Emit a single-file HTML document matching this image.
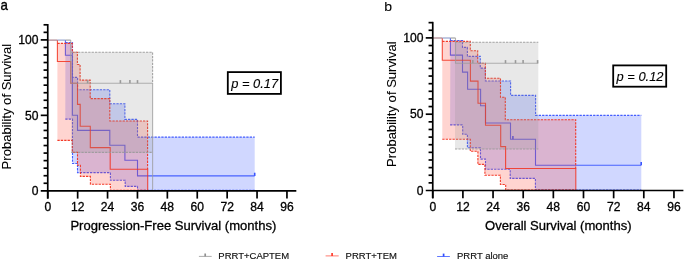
<!DOCTYPE html>
<html><head><meta charset="utf-8"><title>Kaplan-Meier curves</title>
<style>
html,body{margin:0;padding:0;background:#fff;}
body{width:685px;height:261px;overflow:hidden;}
svg{display:block;}
text{font-family:"Liberation Sans",Arial,Helvetica,sans-serif;fill:#000;stroke:#000;stroke-width:0.3px;}
.tk{font-size:12.1px;}
.ti{font-size:13.05px;}
.pv{font-size:12.9px;font-style:italic;stroke-width:0.12px;}
.lg{font-size:9.5px;fill:#111;stroke:#111;stroke-width:0.15px;}
.lt{font-size:14.5px;stroke-width:0.1px;}
</style></head>
<body>
<svg width="685" height="261" viewBox="0 0 685 261">
<polygon points="65.40,42.60 72.50,42.60 72.50,77.40 77.60,77.40 77.60,89.80 109.80,89.80 109.80,103.80 124.90,103.80 124.90,119.40 137.50,119.40 137.50,137.10 254.70,137.10 254.70,190.30 137.50,190.30 137.50,186.40 125.20,186.40 125.20,180.30 110.40,180.30 110.40,172.60 77.50,172.60 77.50,163.50 72.50,163.50 72.50,119.10 65.30,119.10" fill="#3a58ff" fill-opacity="0.24" stroke="none"/>
<polyline points="65.40,42.60 72.50,42.60 72.50,77.40 77.60,77.40 77.60,89.80 109.80,89.80 109.80,103.80 124.90,103.80 124.90,119.40 137.50,119.40 137.50,137.10 254.70,137.10" fill="none" stroke="#3a55ff" stroke-width="1.1" stroke-dasharray="2.3 1.1" stroke-opacity="0.95"/>
<polyline points="65.30,119.10 72.50,119.10 72.50,163.50 77.50,163.50 77.50,172.60 110.40,172.60 110.40,180.30 125.20,180.30 125.20,186.40 137.50,186.40 137.50,190.30 254.70,190.30" fill="none" stroke="#3a55ff" stroke-width="1.1" stroke-dasharray="2.3 1.1" stroke-opacity="0.95"/>
<polyline points="65.40,40.10 65.40,55.30 72.40,55.30 72.40,115.30 77.50,115.30 77.50,130.40 109.80,130.40 109.80,145.20 124.90,145.20 124.90,160.30 137.50,160.30 137.50,175.90 254.70,175.90" fill="none" stroke="#3a55ff" stroke-width="1.1" stroke-opacity="0.9"/>
<line x1="254.70" y1="172.70" x2="254.70" y2="175.90" stroke="#3a55ff" stroke-width="1.6"/>
<polygon points="57.40,43.40 72.30,43.40 72.30,52.20 77.40,52.20 77.40,64.50 80.10,64.50 80.10,80.10 90.20,80.10 90.20,98.60 109.80,98.60 109.80,121.00 147.60,121.00 147.60,190.30 110.40,190.30 110.40,184.20 90.40,184.20 90.40,176.40 80.40,176.40 80.40,165.20 77.50,165.20 77.50,152.40 72.30,152.40 72.30,140.40 57.40,140.40" fill="#ff3a28" fill-opacity="0.22" stroke="none"/>
<polyline points="57.40,43.40 72.30,43.40 72.30,52.20 77.40,52.20 77.40,64.50 80.10,64.50 80.10,80.10 90.20,80.10 90.20,98.60 109.80,98.60 109.80,121.00 147.60,121.00 147.60,169.30" fill="none" stroke="#f2311f" stroke-width="1.1" stroke-dasharray="2.3 1.1" stroke-opacity="0.95"/>
<polyline points="57.40,140.40 72.30,140.40 72.30,152.40 77.50,152.40 77.50,165.20 80.40,165.20 80.40,176.40 90.40,176.40 90.40,184.20 110.40,184.20 110.40,190.30 147.60,190.30" fill="none" stroke="#f2311f" stroke-width="1.1" stroke-dasharray="2.3 1.1" stroke-opacity="0.95"/>
<polyline points="57.40,40.10 57.40,61.50 70.70,61.50 70.70,83.30 77.50,83.30 77.50,104.40 80.20,104.40 80.20,126.30 90.30,126.30 90.30,147.60 110.20,147.60 110.20,169.30 147.70,169.30 147.70,190.80" fill="none" stroke="#f2311f" stroke-width="1.1" stroke-opacity="0.85"/>
<polygon points="71.20,52.30 152.60,52.30 152.60,152.40 71.20,152.40" fill="#8c8c8c" fill-opacity="0.205" stroke="none"/>
<polyline points="71.20,52.30 152.60,52.30 152.60,83.30" fill="none" stroke="#9a9a9a" stroke-width="1.1" stroke-dasharray="2.3 1.1" stroke-opacity="0.9"/>
<polyline points="71.20,152.40 152.60,152.40" fill="none" stroke="#9a9a9a" stroke-width="1.1" stroke-dasharray="2.3 1.1" stroke-opacity="0.9"/>
<polyline points="70.70,40.10 70.70,83.30 152.60,83.30 152.60,190.80" fill="none" stroke="#9a9a9a" stroke-width="1.1" stroke-opacity="0.75"/>
<line x1="87.60" y1="80.10" x2="87.60" y2="83.30" stroke="#9a9a9a" stroke-width="1.6"/>
<line x1="120.40" y1="80.10" x2="120.40" y2="83.30" stroke="#9a9a9a" stroke-width="1.6"/>
<line x1="129.90" y1="80.10" x2="129.90" y2="83.30" stroke="#9a9a9a" stroke-width="1.6"/>
<line x1="137.50" y1="80.10" x2="137.50" y2="83.30" stroke="#9a9a9a" stroke-width="1.6"/>
<line x1="47.80" y1="40.10" x2="57.40" y2="40.10" stroke="#a3757f" stroke-width="1.1"/>
<line x1="57.40" y1="40.10" x2="65.40" y2="40.10" stroke="#8c9bc9" stroke-width="1.1"/>
<line x1="65.40" y1="40.10" x2="70.70" y2="40.10" stroke="#9b9b9b" stroke-width="1.1"/>
<polygon points="450.40,40.50 462.50,40.50 462.50,47.40 467.40,47.40 467.40,56.40 480.30,56.40 480.30,68.10 485.40,68.10 485.40,81.00 510.60,81.00 510.60,95.40 535.60,95.40 535.60,115.40 641.30,115.40 641.30,190.00 535.40,190.00 535.40,178.40 510.20,178.40 510.20,169.30 485.50,169.30 485.50,159.10 480.50,159.10 480.50,147.70 467.40,147.70 467.40,134.30 462.70,134.30 462.70,124.90 450.10,124.90" fill="#3a58ff" fill-opacity="0.24" stroke="none"/>
<polyline points="450.40,40.50 462.50,40.50 462.50,47.40 467.40,47.40 467.40,56.40 480.30,56.40 480.30,68.10 485.40,68.10 485.40,81.00 510.60,81.00 510.60,95.40 535.60,95.40 535.60,115.40 641.30,115.40" fill="none" stroke="#3a55ff" stroke-width="1.1" stroke-dasharray="2.3 1.1" stroke-opacity="0.95"/>
<polyline points="450.10,124.90 462.70,124.90 462.70,134.30 467.40,134.30 467.40,147.70 480.50,147.70 480.50,159.10 485.50,159.10 485.50,169.30 510.20,169.30 510.20,178.40 535.40,178.40 535.40,190.00 641.30,190.00" fill="none" stroke="#3a55ff" stroke-width="1.1" stroke-dasharray="2.3 1.1" stroke-opacity="0.95"/>
<polyline points="450.40,38.00 450.40,55.10 462.50,55.10 462.50,72.10 467.60,72.10 467.60,89.20 480.60,89.20 480.60,105.80 485.50,105.80 485.50,123.00 510.50,123.00 510.50,139.30 535.50,139.30 535.50,165.20 641.20,165.20" fill="none" stroke="#3a55ff" stroke-width="1.1" stroke-opacity="0.9"/>
<line x1="512.90" y1="136.10" x2="512.90" y2="139.30" stroke="#3a55ff" stroke-width="1.6"/>
<line x1="641.20" y1="162.00" x2="641.20" y2="165.20" stroke="#3a55ff" stroke-width="1.6"/>
<polygon points="442.30,41.40 470.30,41.40 470.30,50.70 477.70,50.70 477.70,63.30 485.40,63.30 485.40,78.30 500.50,78.30 500.50,97.20 505.30,97.20 505.30,119.70 575.70,119.70 575.70,190.00 505.70,190.00 505.70,184.50 500.40,184.50 500.40,175.20 484.90,175.20 484.90,164.40 477.90,164.40 477.90,151.30 470.30,151.30 470.30,139.30 442.30,139.30" fill="#ff3a28" fill-opacity="0.22" stroke="none"/>
<polyline points="442.30,41.40 470.30,41.40 470.30,50.70 477.70,50.70 477.70,63.30 485.40,63.30 485.40,78.30 500.50,78.30 500.50,97.20 505.30,97.20 505.30,119.70 575.70,119.70 575.70,168.50" fill="none" stroke="#f2311f" stroke-width="1.1" stroke-dasharray="2.3 1.1" stroke-opacity="0.95"/>
<polyline points="442.30,139.30 470.30,139.30 470.30,151.30 477.90,151.30 477.90,164.40 484.90,164.40 484.90,175.20 500.40,175.20 500.40,184.50 505.70,184.50 505.70,190.00 575.70,190.00" fill="none" stroke="#f2311f" stroke-width="1.1" stroke-dasharray="2.3 1.1" stroke-opacity="0.95"/>
<polyline points="442.30,38.00 442.30,60.20 470.40,60.20 470.40,81.10 478.00,81.10 478.00,103.30 485.50,103.30 485.50,125.30 500.70,125.30 500.70,146.60 505.60,146.60 505.60,168.50 575.80,168.50 575.80,190.50" fill="none" stroke="#f2311f" stroke-width="1.1" stroke-opacity="0.85"/>
<polygon points="455.00,42.20 538.30,42.20 538.30,149.00 455.00,149.00" fill="#8c8c8c" fill-opacity="0.205" stroke="none"/>
<polyline points="455.00,42.20 538.30,42.20" fill="none" stroke="#9a9a9a" stroke-width="1.1" stroke-dasharray="2.3 1.1" stroke-opacity="0.9"/>
<polyline points="455.00,149.00 538.30,149.00" fill="none" stroke="#9a9a9a" stroke-width="1.1" stroke-dasharray="2.3 1.1" stroke-opacity="0.9"/>
<polyline points="455.50,38.00 455.50,63.30 538.20,63.30" fill="none" stroke="#9a9a9a" stroke-width="1.1" stroke-opacity="0.75"/>
<line x1="472.80" y1="60.10" x2="472.80" y2="63.30" stroke="#9a9a9a" stroke-width="1.6"/>
<line x1="505.50" y1="60.10" x2="505.50" y2="63.30" stroke="#9a9a9a" stroke-width="1.6"/>
<line x1="515.50" y1="60.10" x2="515.50" y2="63.30" stroke="#9a9a9a" stroke-width="1.6"/>
<line x1="523.10" y1="60.10" x2="523.10" y2="63.30" stroke="#9a9a9a" stroke-width="1.6"/>
<line x1="537.60" y1="60.10" x2="537.60" y2="63.30" stroke="#9a9a9a" stroke-width="1.6"/>
<line x1="432.70" y1="38.00" x2="442.30" y2="38.00" stroke="#a3757f" stroke-width="1.1"/>
<line x1="442.30" y1="38.00" x2="450.40" y2="38.00" stroke="#8c9bc9" stroke-width="1.1"/>
<line x1="450.40" y1="38.00" x2="455.50" y2="38.00" stroke="#9b9b9b" stroke-width="1.1"/>
<line x1="47.75" y1="24.01" x2="47.75" y2="198.60" stroke="#000" stroke-width="1.7"/>
<line x1="40.75" y1="190.80" x2="296.32" y2="190.80" stroke="#000" stroke-width="1.7"/>
<line x1="43.55" y1="183.26" x2="47.75" y2="183.26" stroke="#000" stroke-width="1.7"/>
<line x1="43.55" y1="175.71" x2="47.75" y2="175.71" stroke="#000" stroke-width="1.7"/>
<line x1="43.55" y1="168.17" x2="47.75" y2="168.17" stroke="#000" stroke-width="1.7"/>
<line x1="43.55" y1="160.62" x2="47.75" y2="160.62" stroke="#000" stroke-width="1.7"/>
<line x1="43.55" y1="153.08" x2="47.75" y2="153.08" stroke="#000" stroke-width="1.7"/>
<line x1="43.55" y1="145.53" x2="47.75" y2="145.53" stroke="#000" stroke-width="1.7"/>
<line x1="43.55" y1="137.99" x2="47.75" y2="137.99" stroke="#000" stroke-width="1.7"/>
<line x1="43.55" y1="130.44" x2="47.75" y2="130.44" stroke="#000" stroke-width="1.7"/>
<line x1="43.55" y1="122.90" x2="47.75" y2="122.90" stroke="#000" stroke-width="1.7"/>
<line x1="40.75" y1="115.35" x2="47.75" y2="115.35" stroke="#000" stroke-width="1.7"/>
<line x1="43.55" y1="107.81" x2="47.75" y2="107.81" stroke="#000" stroke-width="1.7"/>
<line x1="43.55" y1="100.26" x2="47.75" y2="100.26" stroke="#000" stroke-width="1.7"/>
<line x1="43.55" y1="92.72" x2="47.75" y2="92.72" stroke="#000" stroke-width="1.7"/>
<line x1="43.55" y1="85.17" x2="47.75" y2="85.17" stroke="#000" stroke-width="1.7"/>
<line x1="43.55" y1="77.62" x2="47.75" y2="77.62" stroke="#000" stroke-width="1.7"/>
<line x1="43.55" y1="70.08" x2="47.75" y2="70.08" stroke="#000" stroke-width="1.7"/>
<line x1="43.55" y1="62.53" x2="47.75" y2="62.53" stroke="#000" stroke-width="1.7"/>
<line x1="43.55" y1="54.99" x2="47.75" y2="54.99" stroke="#000" stroke-width="1.7"/>
<line x1="43.55" y1="47.44" x2="47.75" y2="47.44" stroke="#000" stroke-width="1.7"/>
<line x1="40.75" y1="39.90" x2="47.75" y2="39.90" stroke="#000" stroke-width="1.7"/>
<line x1="43.55" y1="32.35" x2="47.75" y2="32.35" stroke="#000" stroke-width="1.7"/>
<line x1="43.55" y1="24.81" x2="47.75" y2="24.81" stroke="#000" stroke-width="1.7"/>
<line x1="47.75" y1="190.80" x2="47.75" y2="198.60" stroke="#000" stroke-width="1.7"/>
<text x="47.75" y="211.10" text-anchor="middle" class="tk">0</text>
<line x1="77.65" y1="190.80" x2="77.65" y2="198.60" stroke="#000" stroke-width="1.7"/>
<text x="77.65" y="211.10" text-anchor="middle" class="tk">12</text>
<line x1="107.55" y1="190.80" x2="107.55" y2="198.60" stroke="#000" stroke-width="1.7"/>
<text x="107.55" y="211.10" text-anchor="middle" class="tk">24</text>
<line x1="137.45" y1="190.80" x2="137.45" y2="198.60" stroke="#000" stroke-width="1.7"/>
<text x="137.45" y="211.10" text-anchor="middle" class="tk">36</text>
<line x1="167.35" y1="190.80" x2="167.35" y2="198.60" stroke="#000" stroke-width="1.7"/>
<text x="167.35" y="211.10" text-anchor="middle" class="tk">48</text>
<line x1="197.25" y1="190.80" x2="197.25" y2="198.60" stroke="#000" stroke-width="1.7"/>
<text x="197.25" y="211.10" text-anchor="middle" class="tk">60</text>
<line x1="227.15" y1="190.80" x2="227.15" y2="198.60" stroke="#000" stroke-width="1.7"/>
<text x="227.15" y="211.10" text-anchor="middle" class="tk">72</text>
<line x1="257.05" y1="190.80" x2="257.05" y2="198.60" stroke="#000" stroke-width="1.7"/>
<text x="257.05" y="211.10" text-anchor="middle" class="tk">84</text>
<line x1="286.95" y1="190.80" x2="286.95" y2="198.60" stroke="#000" stroke-width="1.7"/>
<text x="286.95" y="211.10" text-anchor="middle" class="tk">96</text>
<text x="38.45" y="195.00" text-anchor="end" class="tk">0</text>
<text x="38.45" y="119.55" text-anchor="end" class="tk">50</text>
<text x="38.45" y="44.10" text-anchor="end" class="tk">100</text>
<text x="173.35" y="230.40" text-anchor="middle" class="ti">Progression-Free Survival (months)</text>
<text transform="translate(11.20,106.70) rotate(-90)" x="0" y="0" text-anchor="middle" class="ti" style="stroke-width:0.08px">Probability of Survival</text>
<rect x="227.80" y="72.10" width="53.10" height="21.80" fill="#fff" stroke="#000" stroke-width="1.8"/>
<text x="254.65" y="87.60" text-anchor="middle" class="pv"><tspan>p</tspan> = 0.17</text>
<line x1="432.75" y1="21.84" x2="432.75" y2="198.30" stroke="#000" stroke-width="1.7"/>
<line x1="425.75" y1="190.50" x2="683.40" y2="190.50" stroke="#000" stroke-width="1.7"/>
<line x1="428.55" y1="182.87" x2="432.75" y2="182.87" stroke="#000" stroke-width="1.7"/>
<line x1="428.55" y1="175.24" x2="432.75" y2="175.24" stroke="#000" stroke-width="1.7"/>
<line x1="428.55" y1="167.61" x2="432.75" y2="167.61" stroke="#000" stroke-width="1.7"/>
<line x1="428.55" y1="159.98" x2="432.75" y2="159.98" stroke="#000" stroke-width="1.7"/>
<line x1="428.55" y1="152.35" x2="432.75" y2="152.35" stroke="#000" stroke-width="1.7"/>
<line x1="428.55" y1="144.72" x2="432.75" y2="144.72" stroke="#000" stroke-width="1.7"/>
<line x1="428.55" y1="137.09" x2="432.75" y2="137.09" stroke="#000" stroke-width="1.7"/>
<line x1="428.55" y1="129.46" x2="432.75" y2="129.46" stroke="#000" stroke-width="1.7"/>
<line x1="428.55" y1="121.83" x2="432.75" y2="121.83" stroke="#000" stroke-width="1.7"/>
<line x1="425.75" y1="114.20" x2="432.75" y2="114.20" stroke="#000" stroke-width="1.7"/>
<line x1="428.55" y1="106.57" x2="432.75" y2="106.57" stroke="#000" stroke-width="1.7"/>
<line x1="428.55" y1="98.94" x2="432.75" y2="98.94" stroke="#000" stroke-width="1.7"/>
<line x1="428.55" y1="91.31" x2="432.75" y2="91.31" stroke="#000" stroke-width="1.7"/>
<line x1="428.55" y1="83.68" x2="432.75" y2="83.68" stroke="#000" stroke-width="1.7"/>
<line x1="428.55" y1="76.05" x2="432.75" y2="76.05" stroke="#000" stroke-width="1.7"/>
<line x1="428.55" y1="68.42" x2="432.75" y2="68.42" stroke="#000" stroke-width="1.7"/>
<line x1="428.55" y1="60.79" x2="432.75" y2="60.79" stroke="#000" stroke-width="1.7"/>
<line x1="428.55" y1="53.16" x2="432.75" y2="53.16" stroke="#000" stroke-width="1.7"/>
<line x1="428.55" y1="45.53" x2="432.75" y2="45.53" stroke="#000" stroke-width="1.7"/>
<line x1="425.75" y1="37.90" x2="432.75" y2="37.90" stroke="#000" stroke-width="1.7"/>
<line x1="428.55" y1="30.27" x2="432.75" y2="30.27" stroke="#000" stroke-width="1.7"/>
<line x1="428.55" y1="22.64" x2="432.75" y2="22.64" stroke="#000" stroke-width="1.7"/>
<line x1="432.75" y1="190.50" x2="432.75" y2="198.30" stroke="#000" stroke-width="1.7"/>
<text x="432.75" y="210.80" text-anchor="middle" class="tk">0</text>
<line x1="462.90" y1="190.50" x2="462.90" y2="198.30" stroke="#000" stroke-width="1.7"/>
<text x="462.90" y="210.80" text-anchor="middle" class="tk">12</text>
<line x1="493.05" y1="190.50" x2="493.05" y2="198.30" stroke="#000" stroke-width="1.7"/>
<text x="493.05" y="210.80" text-anchor="middle" class="tk">24</text>
<line x1="523.20" y1="190.50" x2="523.20" y2="198.30" stroke="#000" stroke-width="1.7"/>
<text x="523.20" y="210.80" text-anchor="middle" class="tk">36</text>
<line x1="553.35" y1="190.50" x2="553.35" y2="198.30" stroke="#000" stroke-width="1.7"/>
<text x="553.35" y="210.80" text-anchor="middle" class="tk">48</text>
<line x1="583.50" y1="190.50" x2="583.50" y2="198.30" stroke="#000" stroke-width="1.7"/>
<text x="583.50" y="210.80" text-anchor="middle" class="tk">60</text>
<line x1="613.65" y1="190.50" x2="613.65" y2="198.30" stroke="#000" stroke-width="1.7"/>
<text x="613.65" y="210.80" text-anchor="middle" class="tk">72</text>
<line x1="643.80" y1="190.50" x2="643.80" y2="198.30" stroke="#000" stroke-width="1.7"/>
<text x="643.80" y="210.80" text-anchor="middle" class="tk">84</text>
<line x1="673.95" y1="190.50" x2="673.95" y2="198.30" stroke="#000" stroke-width="1.7"/>
<text x="673.95" y="210.80" text-anchor="middle" class="tk">96</text>
<text x="423.45" y="194.70" text-anchor="end" class="tk">0</text>
<text x="423.45" y="118.40" text-anchor="end" class="tk">50</text>
<text x="423.45" y="42.10" text-anchor="end" class="tk">100</text>
<text x="558.35" y="230.40" text-anchor="middle" class="ti">Overall Survival (months)</text>
<text transform="translate(396.20,104.20) rotate(-90)" x="0" y="0" text-anchor="middle" class="ti" style="stroke-width:0.08px">Probability of Survival</text>
<rect x="613.20" y="65.40" width="53.00" height="21.30" fill="#fff" stroke="#000" stroke-width="1.8"/>
<text x="640.00" y="80.65" text-anchor="middle" class="pv"><tspan>p</tspan> = 0.12</text>
<text transform="translate(0.5,10.4) scale(0.92,1)" class="lt" style="stroke-width:0.35px">a</text>
<text transform="translate(384.3,11.0) scale(1.04,1)" class="lt" style="font-size:13.5px">b</text>
<line x1="198.9" y1="256.4" x2="211.7" y2="256.4" stroke="#909090" stroke-width="0.9" stroke-opacity="0.85"/>
<line x1="205.20" y1="253.50" x2="205.20" y2="256.40" stroke="#909090" stroke-width="1.7"/>
<text x="218.3" y="259.4" class="lg">PRRT+CAPTEM</text>
<line x1="325.6" y1="255.9" x2="338.7" y2="255.9" stroke="#ff3b2b" stroke-width="0.8" stroke-opacity="0.85"/>
<line x1="332.10" y1="253.00" x2="332.10" y2="255.90" stroke="#ff3b2b" stroke-width="1.7"/>
<text x="345.6" y="259.4" class="lg">PRRT+TEM</text>
<line x1="437.1" y1="256.5" x2="449.9" y2="256.5" stroke="#2f4dff" stroke-width="0.9" stroke-opacity="0.85"/>
<line x1="443.60" y1="253.60" x2="443.60" y2="256.50" stroke="#2f4dff" stroke-width="1.7"/>
<text x="457.0" y="259.4" class="lg">PRRT alone</text>
</svg>
</body></html>
